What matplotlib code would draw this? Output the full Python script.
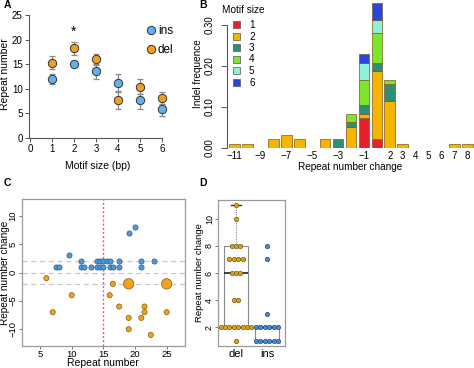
import matplotlib
import numpy as np

matplotlib.use("Agg")
import matplotlib.pyplot as plt
from matplotlib.lines import Line2D
from matplotlib.patches import Patch

W, H = 474, 368

# ---- panel A: mean repeat number by motif size
motif_sizes = [1, 2, 3, 4, 5, 6]
ins_mean = [11.9, 15.0, 13.7, 11.1, 7.7, 5.8]
ins_lo = [11.0, 14.6, 11.9, 9.4, 5.8, 4.5]
ins_hi = [13.0, 15.4, 14.8, 12.9, 8.9, 6.9]
del_mean = [15.3, 18.2, 16.0, 7.7, 10.3, 8.2]
del_lo = [14.0, 16.9, 15.0, 5.8, 8.9, 7.0]
del_hi = [16.7, 19.6, 17.1, 9.6, 11.9, 9.4]
star_motif, star_y = 2, 21.6

# ---- panel B: indel counts by repeat number change, stacked per motif size
change_cats = [-11, -10, -9, -8, -7, -6, -5, -4, -3, -2, -1, 1, 2, 3, 4, 5, 6, 7, 8]
shown_labels = [-11, -9, -7, -5, -3, -1, 2, 3, 4, 5, 6, 7, 8]
motif1_counts = [0, 0, 0, 0, 0, 0, 0, 0, 0, 0, 7, 2, 0, 0, 0, 0, 0, 0, 0]
motif2_counts = [1, 1, 0, 2, 3, 2, 0, 2, 0, 5, 1, 16, 11, 1, 0, 0, 0, 1, 1]
motif3_counts = [0, 0, 0, 0, 0, 0, 0, 0, 2, 1, 2, 2, 4, 0, 0, 0, 0, 0, 0]
motif4_counts = [0, 0, 0, 0, 0, 0, 0, 0, 0, 2, 6, 7, 1, 0, 0, 0, 0, 0, 0]
motif5_counts = [0, 0, 0, 0, 0, 0, 0, 0, 0, 0, 4, 3, 0, 0, 0, 0, 0, 0, 0]
motif6_counts = [0, 0, 0, 0, 0, 0, 0, 0, 0, 0, 2, 4, 0, 0, 0, 0, 0, 0, 0]
total_indels = 96

# ---- panel C: repeat number vs repeat number change
ins_x = [7.5, 8, 9.5, 11.5, 11.5, 12, 13, 14, 14, 14.5, 14.5, 15, 15, 15.5,
         16, 16, 16.5, 17.5, 17.5, 19, 20, 21, 21, 23]
ins_y = [1, 1, 3, 2, 1, 1, 1, 2, 1, 2, 1, 2, 1, 2, 2, 1, 1, 2, 1, 7, 8, 2, 1, 2]
del_x = [6, 7, 10, 16, 16.5, 19, 25, 17.5, 19, 19, 21, 21.5, 21.5, 22.5, 25]
del_y = [-1, -7, -4, -4, -2, -2, -2, -6, -8, -10, -8, -7, -6, -11, -7]
del_n = [1, 1, 1, 1, 1, 4, 4, 1, 1, 1, 1, 1, 1, 1, 1]

# ---- panel D: absolute repeat number change (value, count)
del_abs = [1, 2, 4, 6, 7, 8, 10, 11]
del_abs_n = [1, 8, 2, 3, 4, 3, 1, 1]
ins_abs = [1, 2, 3, 7, 8]
ins_abs_n = [6, 6, 1, 1, 1]
del_box = dict(med=6, q1=2, q3=8, whislo=2, whishi=11)
ins_box = dict(med=2, q1=1, q3=2, whislo=1, whishi=2)

C_INS = "#62b2ea"
C_DEL = "#f0a020"
MOTIF_COLORS = ["#e8202a", "#f7b500", "#2f8f73", "#7ce62c", "#8ef0d8", "#2a46e0"]

plt.rcParams["font.family"] = ["Liberation Sans", "DejaVu Sans"]
plt.rcParams["axes.unicode_minus"] = True


def px_rect(left, top, right, bottom):
    return [left / W, 1 - bottom / H, (right - left) / W, (bottom - top) / H]


def minus(v):
    return str(v).replace("-", "\u2212")


def place_ylabel(axis, right_px, left_px, width_px):
    # put the y label's right edge at a given pixel column
    axis.yaxis.set_label_coords((right_px - left_px) / width_px, 0.5)


fig = plt.figure(figsize=(W / 100, H / 100), dpi=100)

# ================= A
ax = fig.add_axes(px_rect(29, 10, 167, 138))
for mean, lo, hi, col in ((ins_mean, ins_lo, ins_hi, C_INS), (del_mean, del_lo, del_hi, C_DEL)):
    mean = np.asarray(mean)
    yerr = [mean - np.asarray(lo), np.asarray(hi) - mean]
    ax.errorbar(motif_sizes, mean, yerr=yerr, fmt="none", ecolor="#8a8a8a",
                elinewidth=0.9, capsize=2.5, capthick=0.9, zorder=2)
    ax.plot(motif_sizes, mean, "o", ms=6, mfc=col, mec="#333333", mew=0.7, zorder=3)
ax.text(star_motif, star_y, "*", ha="center", va="center", fontsize=10)
ax.set_xlim(-0.045, 6.23)
ax.set_ylim(0, 26)
ax.set_xticks(range(0, 7))
ax.set_yticks(range(0, 26, 5))
ax.spines[["top", "right"]].set_visible(False)
ax.spines["left"].set_bounds(0, 25)
ax.spines["bottom"].set_bounds(0, 6)
for s in ("left", "bottom"):
    ax.spines[s].set_color("#555555")
    ax.spines[s].set_linewidth(0.8)
ax.tick_params(length=3, width=0.7, color="#555555", labelsize=7, pad=1.5)
ax.set_xlabel("Motif size (bp)", fontsize=7.5, labelpad=5)
ax.set_ylabel("Repeat number", fontsize=7.5)
place_ylabel(ax, 10, 29, 138)
handles = [Line2D([], [], ls="none", marker="o", ms=6, mfc=c, mec="#333333", mew=0.7)
           for c in (C_INS, C_DEL)]
fig.legend(handles, ["ins", "del"], loc="upper left", bbox_to_anchor=(146 / W, 1 - 25 / H),
           frameon=False, handletextpad=0.1, handlelength=0.9, borderpad=0,
           borderaxespad=0, labelspacing=0.6, fontsize=8.5)

# ================= B
ax = fig.add_axes(px_rect(227, 0, 474, 148))
idx = np.arange(len(change_cats))
bottom = np.zeros(len(change_cats))
stacks = [motif1_counts, motif2_counts, motif3_counts, motif4_counts, motif5_counts, motif6_counts]
for counts, col in zip(stacks, MOTIF_COLORS):
    freq = np.asarray(counts) / total_indels
    mask = freq > 0
    ax.bar(idx[mask], freq[mask], width=0.83, bottom=bottom[mask], color=col,
           edgecolor="#7a5a20", linewidth=0.5)
    bottom += freq
empty = bottom == 0
ax.bar(idx[empty], np.zeros(empty.sum()), width=0.83, color="none", edgecolor="#bbbbbb", linewidth=0.8)
ax.set_xlim(-0.58, 18.5)
ax.set_ylim(0, 0.361)
ax.set_yticks([0, 0.10, 0.20, 0.30])
ax.set_yticklabels(["0.00", "0.10", "0.20", "0.30"], rotation=90, va="center")
ax.set_xticks([change_cats.index(v) for v in shown_labels])
ax.set_xticklabels([minus(v) for v in shown_labels])
ax.spines[["top", "right", "bottom"]].set_visible(False)
ax.spines["left"].set_bounds(0, 0.30)
ax.spines["left"].set_color("#555555")
ax.spines["left"].set_linewidth(0.8)
ax.tick_params(axis="y", length=4, width=0.7, color="#555555", labelsize=7, pad=5)
ax.tick_params(axis="x", length=0, labelsize=7, pad=2)
ax.set_xlabel("Repeat number change", fontsize=7.2, labelpad=1)
ax.set_ylabel("Indel frequence", fontsize=7.2)
place_ylabel(ax, 203, 227, 247)
fig.text(222 / W, 1 - 10 / H, "Motif size", fontsize=7.2, va="center", ha="left")
patches = [Patch(facecolor=c, edgecolor="#555555", linewidth=0.5) for c in MOTIF_COLORS]
fig.legend(patches, ["1", "2", "3", "4", "5", "6"], loc="upper left",
           bbox_to_anchor=(233 / W, 1 - 20 / H), frameon=False, fontsize=7.2,
           handlelength=0.7, handleheight=0.7, handletextpad=0.9, labelspacing=0.15,
           borderpad=0, borderaxespad=0)

# ================= C
ax = fig.add_axes(px_rect(21.7, 199, 185, 346))
for yv in (2, 0, -2):
    ax.axhline(yv, color="#c8c8c8", lw=0.9, ls=(0, (4, 3)), zorder=1)
ax.axvline(15, color="#e06080", lw=1.0, ls=(0, (1.5, 1.5)), zorder=1)
ax.scatter(ins_x, ins_y, s=14, c="#4f98dc", edgecolors="#2b5a8a", linewidths=0.5, zorder=3)
ax.scatter(del_x, del_y, s=np.asarray(del_n) * 14, c="#eea21e", edgecolors="#8a5a10",
           linewidths=0.5, zorder=3)
ax.set_xlim(2.1, 27.9)
ax.set_ylim(-12.96, 12.96)
ax.set_xticks([5, 10, 15, 20, 25])
ax.set_yticks([-10, -5, 0, 5, 10])
ax.set_yticklabels([minus(v) for v in (-10, -5, 0, 5, 10)], rotation=90, va="center")
for s in ax.spines.values():
    s.set_color("#9a9a9a")
    s.set_linewidth(0.9)
ax.tick_params(length=2, width=0.7, color="#777777", labelsize=6.8, pad=1)
ax.set_xlabel("Repeat number", fontsize=7.5, labelpad=-0.5)
ax.set_ylabel("Repeat number change", fontsize=7.2)
place_ylabel(ax, 10, 21.7, 163.3)

# ================= D
ax = fig.add_axes(px_rect(218, 200, 285, 346))
stats = []
for st, lab in ((del_box, "del"), (ins_box, "ins")):
    d = dict(st)
    d["label"] = lab
    stats.append(d)
ax.bxp(stats, positions=[1, 2], widths=0.8, showfliers=False,
       boxprops=dict(color="#8a8a8a", linewidth=0.8),
       medianprops=dict(color="#222222", linewidth=1.2),
       whiskerprops=dict(color="#8a8a8a", linewidth=0.8, linestyle=(0, (1, 1))),
       capprops=dict(color="#333333", linewidth=1.0), capwidths=0.35)
step = 0.14
for pos, vals, counts, fc, ec in ((1, del_abs, del_abs_n, "#d9a21a", "#7a5a10"),
                                  (2, ins_abs, ins_abs_n, "#4a8ad0", "#1f4f80")):
    for v, n in zip(vals, counts):
        xs = pos + (np.arange(n) - (n - 1) / 2) * step
        ax.scatter(xs, np.full(n, v), s=10, c=fc, edgecolors=ec, linewidths=0.5, zorder=3)
ax.set_xlim(0.42, 2.58)
ax.set_ylim(0.6, 11.4)
ax.set_yticks([2, 4, 6, 8, 10])
ax.set_yticklabels(["2", "4", "6", "8", "10"], rotation=90, va="center")
ax.set_xticks([1, 2])
ax.set_xticklabels(["del", "ins"])
for s in ax.spines.values():
    s.set_color("#9a9a9a")
    s.set_linewidth(0.9)
ax.tick_params(axis="y", length=2, width=0.7, color="#777777", labelsize=6.5, pad=1)
ax.tick_params(axis="x", length=0, labelsize=8, pad=2)
ax.set_ylabel("Repeat number change", fontsize=6.8)
place_ylabel(ax, 204, 218, 67)

# panel letters
for letter, x, y in (("A", 4, 5), ("B", 199, 5), ("C", 4, 183), ("D", 199, 183)):
    fig.text(x / W, 1 - y / H, letter, fontsize=7.5, fontweight="bold", va="center", ha="left")

fig.savefig("out.png", dpi=100)
